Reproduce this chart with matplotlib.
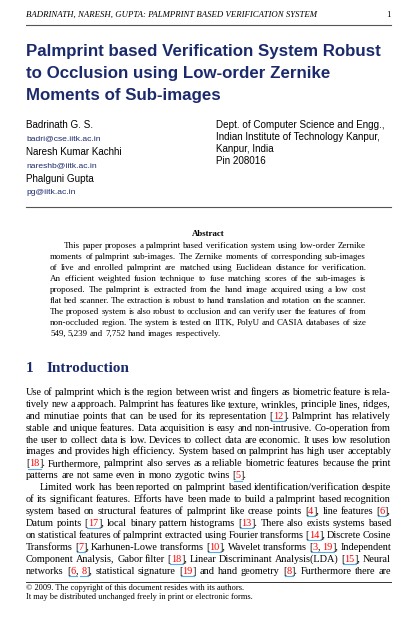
import re
import matplotlib.pyplot as plt
from matplotlib.lines import Line2D

W, H = 408, 618
SERIF = "Liberation Serif"
SANS = "Liberation Sans"
NAVY = "#1b2a6b"

header = "BADRINATH, NARESH, GUPTA: PALMPRINT BASED VERIFICATION SYSTEM"
title_lines = ["Palmprint based Verification System Robust",
               "to Occlusion using Low-order Zernike",
               "Moments of Sub-images"]
authors = ["Badrinath G. S.", "badri@cse.iitk.ac.in", "Naresh Kumar Kachhi",
           "nareshb@iitk.ac.in", "Phalguni Gupta", "pg@iitk.ac.in"]
affil = ["Dept. of Computer Science and Engg.,", "Indian Institute of Technology Kanpur,",
         "Kanpur, India", "Pin 208016"]
abstract = [
    "This paper proposes a palmprint based verification system using low-order Zernike",
    "moments of palmprint sub-images. The Zernike moments of corresponding sub-images",
    "of live and enrolled palmprint are matched using Euclidean distance for verification.",
    "An efficient weighted fusion technique to fuse matching scores of the sub-images is",
    "proposed. The palmprint is extracted from the hand image acquired using a low cost",
    "flat bed scanner. The extraction is robust to hand translation and rotation on the scanner.",
    "The proposed system is also robust to occlusion and can verify user the features of from",
    "non-occluded region. The system is tested on IITK, PolyU and CASIA databases of size",
    "549, 5,239 and 7,752 hand images respectively.",
]
# {n} marks a red citation number
body = [
    "Use of palmprint which is the region between wrist and fingers as biometric feature is rela-",
    "tively new a approach. Palmprint has features like texture, wrinkles, principle lines, ridges,",
    "and minutiae points that can be used for its representation [{12}]. Palmprint has relatively",
    "stable and unique features. Data acquisition is easy and non-intrusive. Co-operation from",
    "the user to collect data is low. Devices to collect data are economic. It uses low resolution",
    "images and provides high efficiency. System based on palmprint has high user acceptably",
    "[{18}]. Furthermore, palmprint also serves as a reliable biometric features because the print",
    "patterns are not same even in mono zygotic twins [{5}].",
    "Limited work has been reported on palmprint based identification/verification despite",
    "of its significant features. Efforts have been made to build a palmprint based recognition",
    "system based on structural features of palmprint like crease points [{4}], line features [{6}],",
    "Datum points [{17}], local binary pattern histograms [{13}]. There also exists systems based",
    "on statistical features of palmprint extracted using Fourier transforms [{14}], Discrete Cosine",
    "Transforms [{7}], Karhunen-Lowe transforms [{10}], Wavelet transforms [{3}, {19}], Independent",
    "Component Analysis, Gabor filter [{18}], Linear Discriminant Analysis(LDA) [{15}], Neural",
    "networks [{6}, {8}], statistical signature [{19}] and hand geometry [{8}]. Furthermore there are",
]
body_last = {7}          # lines not justified
body_indent = {8}
footnote = ["\u00a9 2009. The copyright of this document resides with its authors.",
            "It may be distributed unchanged freely in print or electronic forms."]

fig = plt.figure(figsize=(W / 100, H / 100), dpi=100)
ax = fig.add_axes([0, 0, 1, 1])
ax.set_xlim(0, W)
ax.set_ylim(H, 0)
ax.axis("off")
r = fig.canvas.get_renderer()


def width(t):
    return t.get_window_extent(renderer=r).width


def put_line(x0, x1, y, line, size, justify=True, cite=False):
    words = line.split(" ")
    items = []
    for w in words:
        segs = re.split(r"(\{\d+\})", w) if cite else [w]
        parts = []
        for s in segs:
            if not s:
                continue
            red = s.startswith("{")
            parts.append((s.strip("{}"), red))
        items.append(parts)
    arts = []
    total = 0
    for parts in items:
        wa = []
        for s, red in parts:
            t = ax.text(0, y, s, fontsize=size, family=SERIF, va="baseline",
                        color="red" if red else "black")
            wa.append((t, width(t), red))
        arts.append(wa)
        total += sum(w for _, w, _ in wa)
    sp = ax.text(0, 0, " ", fontsize=size, family=SERIF)
    space = width(sp)
    sp.remove()
    gaps = max(len(arts) - 1, 1)
    gap = (x1 - x0 - total) / gaps if justify else space
    x = x0
    for wa in arts:
        for t, w, red in wa:
            t.set_x(x)
            if red:
                ax.add_line(Line2D([x - 1.5, x + w + 1.5], [y + 2.2, y + 2.2],
                                   color="#55aaee", lw=0.8))
            x += w
        x += gap


# header
ax.text(26, 17, header, fontsize=6.3, family=SERIF, style="italic", va="baseline")
ax.text(391, 17, "1", fontsize=6.3, family=SERIF, ha="right", va="baseline")
ax.plot([26, 391], [25, 25], color="#555555", lw=0.8)

for i, t in enumerate(title_lines):
    ax.text(26, 56 + i * 22, t, fontsize=12.2, family=SANS, weight="bold",
            color=NAVY, va="baseline")

ay = [128, 140, 155, 167, 182, 194]
for i, t in enumerate(authors):
    ax.text(26, ay[i], t, fontsize=7.1 if i % 2 == 0 else 6.1, family=SANS,
            color="black" if i % 2 == 0 else NAVY, va="baseline")
for i, t in enumerate(affil):
    ax.text(216, 128 + i * 12, t, fontsize=7.1, family=SANS, va="baseline")
ax.plot([26, 391], [207, 207], color="#555555", lw=0.8)

ax.text(208, 236, "Abstract", fontsize=6.4, family=SERIF, weight="bold",
        ha="center", va="baseline")
for i, t in enumerate(abstract):
    x0 = 64 if i == 0 else 50
    put_line(x0, 366, 248 + i * 11, t, 6.5, justify=i < len(abstract) - 1)

ax.text(26, 372, "1", fontsize=11, family=SERIF, weight="bold", color=NAVY, va="baseline")
ax.text(47, 372, "Introduction", fontsize=11, family=SERIF, weight="bold",
        color=NAVY, va="baseline")

for i, t in enumerate(body):
    x0 = 40 if i in body_indent else 26
    put_line(x0, 391, 395 + i * 11.9, t, 7.4, justify=i not in body_last, cite=True)

ax.plot([26, 391], [582, 582], color="#333333", lw=0.7)
for i, t in enumerate(footnote):
    ax.text(26, 590 + i * 9, t, fontsize=6.0, family=SERIF, va="baseline")

fig.savefig("out.png", dpi=100)
